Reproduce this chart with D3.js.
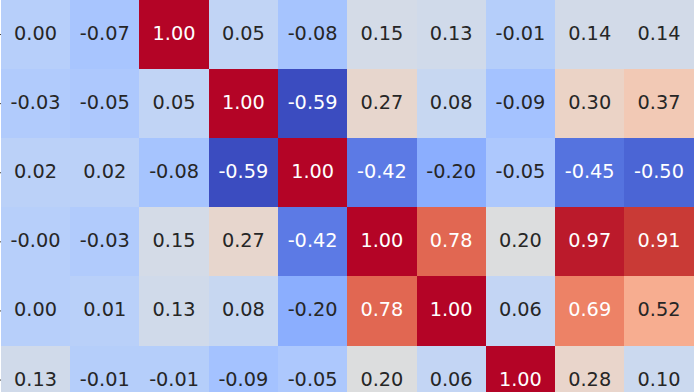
<!DOCTYPE html>
<html>
<head>
<meta charset="utf-8">
<script src="https://cdn.jsdelivr.net/npm/d3@7"></script>
<style>
  html, body { margin: 0; padding: 0; background: #ffffff; overflow: hidden; }
  svg { display: block; }
</style>
</head>
<body>
<svg id="chart" width="697" height="392"></svg>
<script>
// Visible part of a correlation heatmap (rows / columns of the full matrix)
const rowLabels = ["r1", "r2", "r3", "r4", "r5", "r6"];
const colLabels = ["c1", "c2", "c3", "c4", "c5", "c6", "c7", "c8", "c9", "c10"];

const row1 = [0.00, -0.07, 1.00, 0.05, -0.08, 0.15, 0.13, -0.01, 0.14, 0.14];
const row2 = [-0.03, -0.05, 0.05, 1.00, -0.59, 0.27, 0.08, -0.09, 0.30, 0.37];
const row3 = [0.02, 0.02, -0.08, -0.59, 1.00, -0.42, -0.20, -0.05, -0.45, -0.50];
const row4 = [-0.001, -0.03, 0.15, 0.27, -0.42, 1.00, 0.78, 0.20, 0.97, 0.91];
const row5 = [0.00, 0.01, 0.13, 0.08, -0.20, 0.78, 1.00, 0.06, 0.69, 0.52];
const row6 = [0.13, -0.01, -0.01, -0.09, -0.05, 0.20, 0.06, 1.00, 0.28, 0.10];
const rows = [row1, row2, row3, row4, row5, row6];

// colour range of the full matrix
const vMin = -0.59, vMax = 1.0;

// coolwarm (Moreland) control colours
const coolwarm = [
  "#3b4cc0","#445acc","#4d68d7","#5775e1","#6282ea","#6c8ef1","#779af7","#82a5fb",
  "#8db0fe","#98b9ff","#a3c2ff","#aec9fd","#b8d0f9","#c2d5f4","#ccd9ee","#d5dbe6",
  "#dddddd","#e5d8d1","#ecd3c5","#f1ccb9","#f5c4ad","#f7bba0","#f7b194","#f7a687",
  "#f49a7b","#f18d6f","#ec7f63","#e57058","#de604d","#d55042","#cb3e38","#c0282f","#b40426"
];

const cells = [];
rows.forEach((vals, i) => vals.forEach((v, j) => cells.push({row: rowLabels[i], col: colLabels[j], v})));

const svg = d3.select("#chart");
const x = d3.scaleBand().domain(colLabels).range([0.9, 693.6]).padding(0);
const y = d3.scaleBand().domain(rowLabels).range([0, 414.6]).padding(0);
const color = d3.scaleSequential(d3.piecewise(d3.interpolateRgb, coolwarm)).domain([vMin, vMax]);

function lum(c) {
  const rgb = d3.rgb(c);
  const f = u => { u /= 255; return u <= 0.03928 ? u / 12.92 : Math.pow((u + 0.055) / 1.055, 2.4); };
  return 0.2126 * f(rgb.r) + 0.7152 * f(rgb.g) + 0.0722 * f(rgb.b);
}

const g = svg.append("g");
g.selectAll("rect").data(cells).join("rect")
  .attr("x", d => x(d.col))
  .attr("y", d => y(d.row))
  .attr("width", x.bandwidth() + 0.5)
  .attr("height", y.bandwidth() + 0.5)
  .attr("fill", d => color(d.v))
  .attr("shape-rendering", "crispEdges");

g.selectAll("text").data(cells).join("text")
  .attr("x", d => x(d.col) + x.bandwidth() / 2)
  .attr("y", d => y(d.row) + y.bandwidth() / 2 - 1)
  .attr("text-anchor", "middle")
  .attr("dominant-baseline", "central")
  .attr("font-family", "DejaVu Sans, sans-serif")
  .attr("font-size", "19.3px")
  .attr("fill", d => lum(color(d.v)) > 0.408 ? "#262626" : "#ffffff")
  .text(d => d.v.toFixed(2));

const yAxis = d3.axisLeft(y).tickSize(4).tickFormat(() => "");
const ax = svg.append("g").attr("transform", "translate(0.9,0)").call(yAxis);
ax.select(".domain").remove();
ax.selectAll(".tick line").attr("stroke", "#262626").attr("stroke-width", 1);
</script>
</body>
</html>
